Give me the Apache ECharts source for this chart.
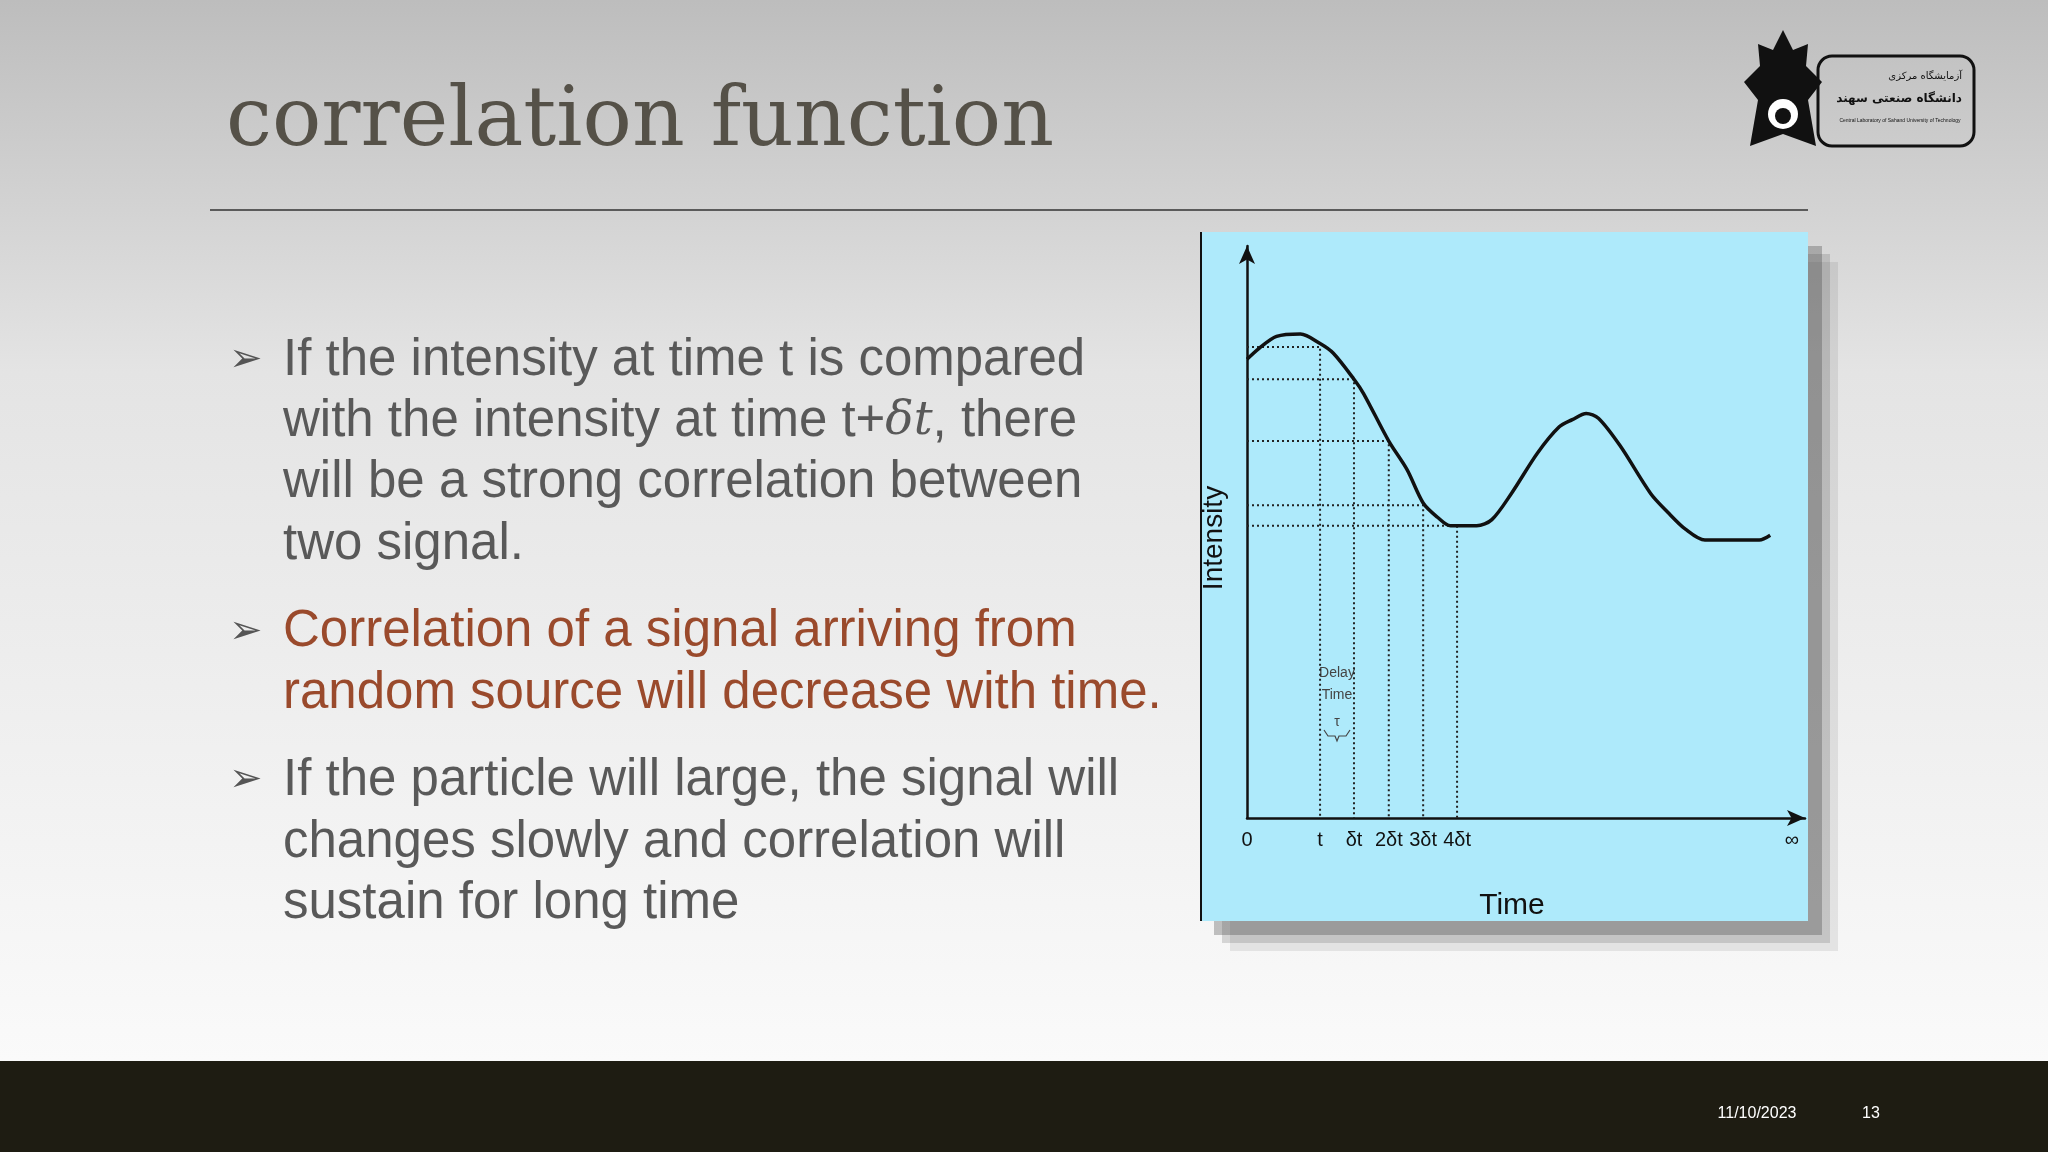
<!DOCTYPE html>
<html><head><meta charset="utf-8">
<script src="https://cdn.jsdelivr.net/npm/echarts@6/dist/echarts.min.js"></script>
<style>html,body{margin:0;padding:0;}#c{width:2048px;height:1152px;}</style>
</head><body><div id="c"></div>
<script>
// Curve (Intensity vs Time), in axis units
const curveX = [0,28,68,123,168,198,246,268,326,368,405,438,468,528,563,608,668,718,748,780,808,858,928,968,1008,1053,1178,1203];
const curveY = [964,987,1012,1017,997,977,922,892,792,732,662,632,614,614,627,682,767,822,837,850,840,782,682,642,607,584,584,594];
// Delay markers
const tickValues = [0,168,246,326,405,483,1253];
const tickLabels = ['0','t','δt','2δt','3δt','4δt','∞'];
const dropX = [168,246,326,405,483];
const dropY = [990,922,792,657,614];
const bullets = [
  {lines:['If the intensity at time t is compared','with the intensity at time t+{i|δt}, there','will be a strong correlation between','two signal.'], color:'#595959'},
  {lines:['Correlation of a signal arriving from','random source will decrease with time.'], color:'#9a4a2c'},
  {lines:['If the particle will large, the signal will','changes slowly and correlation will','sustain for long time'], color:'#595959'}
];

const S = 2048/1568;
const curve = curveX.map((x,i)=>[x,curveY[i]]);
const dotSeries = [];
dropX.forEach((x,i)=>{
  dotSeries.push({type:'line',data:[[0,dropY[i]],[x,dropY[i]],[x,0]],symbol:'none',silent:true,z:2,
    lineStyle:{type:[2,3],width:2,color:'#222'}});
});

const g = [];
g.push({type:'rect',z:-10,shape:{x:0,y:0,width:2048,height:1062},style:{fill:new echarts.graphic.LinearGradient(0,0,0,1,[{offset:0,color:'#bdbdbd'},{offset:0.35,color:'#e4e4e4'},{offset:1,color:'#fafafa'}])}});
g.push({type:'rect',z:-10,shape:{x:0,y:1061,width:2048,height:91},style:{fill:'#1e1c12'}});
g.push({type:'text',style:{text:'11/10/2023',x:1757,y:1114,fill:'#fff',font:'16px "Liberation Sans"',textVerticalAlign:'middle',textAlign:'center'}});
g.push({type:'text',style:{text:'13',x:1871,y:1114,fill:'#fff',font:'16px "Liberation Sans"',textVerticalAlign:'middle',textAlign:'center'}});
g.push({type:'text',style:{text:'correlation function',x:226,y:83,fill:'#555148',font:'82px "DejaVu Serif"',textBaseline:'alphabetic',textVerticalAlign:'alphabetic'}});
g.push({type:'line',shape:{x1:210,y1:210,x2:1808,y2:210},style:{stroke:'#333',lineWidth:1.5}});
const lineY = [[276,323,370,417],[484,531],[598,645,692]];
bullets.forEach((b,bi)=>{
  g.push({type:'text',style:{text:'➢',x:229,y:lineY[bi][0]*S,fill:'#555',font:'40px "DejaVu Sans"',textVerticalAlign:'middle'}});
  b.lines.forEach((ln,li)=>{
    g.push({type:'text',style:{text:ln,x:283,y:lineY[bi][li]*S,fill:b.color,font:'51px "Liberation Sans"',textVerticalAlign:'middle',
      rich:{i:{fontFamily:'DejaVu Serif',fontStyle:'italic',fontSize:47,fill:b.color}}}});
  });
});
[[30,0.10],[22,0.18],[14,0.30]].forEach(([o,a])=>{
  g.push({type:'rect',z:-5,shape:{x:1200+o,y:232+o,width:608,height:689},style:{fill:'rgba(60,60,60,'+a+')'}});
});
g.push({type:'rect',z:-4,shape:{x:1200,y:232,width:608,height:689},style:{fill:'#aeeafb'}});
g.push({type:'line',z:-3,shape:{x1:1201,y1:232,x2:1201,y2:921},style:{stroke:'#111',lineWidth:2}});
g.push({type:'text',style:{text:'Intensity',x:1214,y:538,fill:'#111',font:'28px "Liberation Sans"',textAlign:'center',textVerticalAlign:'middle'},rotation:Math.PI/2,originX:1214,originY:538});
g.push({type:'text',style:{text:'Time',x:1512,y:906,fill:'#111',font:'30px "Liberation Sans"',textAlign:'center',textVerticalAlign:'middle'}});
['Delay','Time','τ'].forEach((t,i)=>{
  g.push({type:'text',style:{text:t,x:1337,y:[673,695,722][i],fill:'#444',font:'14px "Liberation Sans"',textAlign:'center',textVerticalAlign:'middle'}});
});
g.push({type:'polyline',shape:{points:[[1324,730],[1328,736],[1335,736],[1337,741],[1339,736],[1346,736],[1350,730]]},style:{stroke:'#444',lineWidth:1.2,fill:null}});
// logo
g.push({type:'rect',shape:{x:1818,y:56,width:156,height:90,r:14},style:{fill:'none',stroke:'#111',lineWidth:3}});
g.push({type:'polygon',shape:{points:[[1783,30],[1793,50],[1808,44],[1806,66],[1822,82],[1808,100],[1816,146],[1783,134],[1750,146],[1758,100],[1744,82],[1760,66],[1758,44],[1773,50]]},style:{fill:'#111'}});
g.push({type:'circle',shape:{cx:1783,cy:114,r:15},style:{fill:'#fff'}});
g.push({type:'circle',shape:{cx:1783,cy:116,r:8},style:{fill:'#111'}});
g.push({type:'text',style:{text:'آزمایشگاه مرکزی',x:1962,y:76,fill:'#111',font:'10px "DejaVu Sans"',textAlign:'right',textVerticalAlign:'middle'}});
g.push({type:'text',style:{text:'دانشگاه صنعتی سهند',x:1962,y:99,fill:'#111',font:'bold 12px "DejaVu Sans"',textAlign:'right',textVerticalAlign:'middle'}});
g.push({type:'text',style:{text:'Central Laboratory of Sahand University of Technology',x:1900,y:121,fill:'#111',font:'5px "Liberation Sans"',textAlign:'center',textVerticalAlign:'middle'}});

const chart = echarts.init(document.getElementById('c'));
chart.setOption({
  animation:false,
  graphic:g,
  grid:{left:1247,top:246,width:558,height:572},
  xAxis:{type:'value',min:0,max:1283,splitLine:{show:false},
    axisLine:{lineStyle:{color:'#111',width:2.5},symbol:['none','arrow'],symbolSize:[12,18]},
    axisTick:{show:false},
    axisLabel:{customValues:tickValues,formatter:v=>tickLabels[tickValues.indexOf(v)],color:'#111',fontSize:20,margin:12,
      fontFamily:'"Liberation Sans"'}},
  yAxis:{type:'value',min:0,max:1202,splitLine:{show:false},axisTick:{show:false},axisLabel:{show:false},
    axisLine:{show:true,lineStyle:{color:'#111',width:2.5},symbol:['none','arrow'],symbolSize:[12,18]}},
  series:[...dotSeries,{type:'line',data:curve,symbol:'none',smooth:0.3,z:5,lineStyle:{color:'#111',width:3.5}}]
});
</script></body></html>
